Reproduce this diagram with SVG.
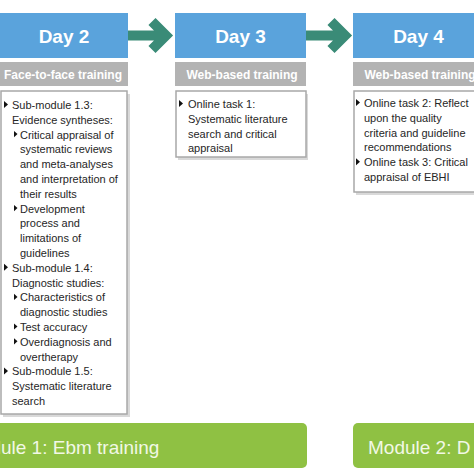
<svg xmlns="http://www.w3.org/2000/svg" width="474" height="474" viewBox="0 0 474 474">
<defs>
<style>
.day{fill:#5aa3dc}
.bar{fill:#b3b3b3}
.box{fill:#ffffff;stroke:#a8a8a8;stroke-width:1.5}
.shadow{fill:#d9d9d9}
.dt{font-family:"Liberation Sans",Arial,sans-serif;font-weight:bold;font-size:19px;fill:#ffffff;text-anchor:middle}
.bt{font-family:"Liberation Sans",Arial,sans-serif;font-weight:bold;font-size:12px;fill:#ffffff;text-anchor:middle}
.tx{font-family:"Liberation Sans",Arial,sans-serif;font-size:11px;fill:#262626}
.mod{fill:#8fc143}
.mt{font-family:"Liberation Sans",Arial,sans-serif;font-size:19px;fill:#f2f8e6}
.arr{fill:none;stroke:#3a8b77;stroke-width:10}
.bul{fill:#111111}
</style>
</defs>
<rect width="474" height="474" fill="#ffffff"/>
<g id="connectors">
<path class="arr" d="M128 35.5H164M152 21.5L166 35.5L152 49.5"/>
<path class="arr" d="M306 35.5H344M331 21.5L345 35.5L331 49.5"/>
</g>
<g id="day2">
<rect class="day" x="-3" y="13" width="131" height="45"/>
<text class="dt" x="64" y="43">Day 2</text>
<rect class="bar" x="-3" y="62" width="131" height="24"/>
<text class="bt" x="63" y="79">Face-to-face training</text>
<rect class="shadow" x="3" y="94" width="127" height="323"/>
<rect class="box" x="1" y="91" width="126" height="323"/>
<polygon class="bul" points="4,101 8,104.5 4,108"/>
<text class="tx" x="12" y="109">Sub-module 1.3:</text>
<text class="tx" x="12" y="123.8">Evidence syntheses:</text>
<polygon class="bul" points="14,131 17.5,134.1 14,137.2"/>
<text class="tx" x="20" y="138.6">Critical appraisal of</text>
<text class="tx" x="20" y="153.4">systematic reviews</text>
<text class="tx" x="20" y="168.2">and meta-analyses</text>
<text class="tx" x="20" y="183">and interpretation of</text>
<text class="tx" x="20" y="197.8">their results</text>
<polygon class="bul" points="14,205 17.5,208.1 14,211.2"/>
<text class="tx" x="20" y="212.6">Development</text>
<text class="tx" x="20" y="227.4">process and</text>
<text class="tx" x="20" y="242.2">limitations of</text>
<text class="tx" x="20" y="257">guidelines</text>
<polygon class="bul" points="4,263.8 8,267.3 4,270.8"/>
<text class="tx" x="12" y="271.8">Sub-module 1.4:</text>
<text class="tx" x="12" y="286.6">Diagnostic studies:</text>
<polygon class="bul" points="14,293.8 17.5,296.9 14,300"/>
<text class="tx" x="20" y="301.4">Characteristics of</text>
<text class="tx" x="20" y="316.2">diagnostic studies</text>
<polygon class="bul" points="14,323.4 17.5,326.5 14,329.6"/>
<text class="tx" x="20" y="331">Test accuracy</text>
<polygon class="bul" points="14,338.2 17.5,341.3 14,344.4"/>
<text class="tx" x="20" y="345.8">Overdiagnosis and</text>
<text class="tx" x="20" y="360.6">overtherapy</text>
<polygon class="bul" points="4,367.4 8,370.9 4,374.4"/>
<text class="tx" x="12" y="375.4">Sub-module 1.5:</text>
<text class="tx" x="12" y="390.2">Systematic literature</text>
<text class="tx" x="12" y="405">search</text>
</g>
<g id="day3">
<rect class="day" x="175" y="13" width="131" height="45"/>
<text class="dt" x="240.5" y="43">Day 3</text>
<rect class="bar" x="175" y="62" width="131" height="24"/>
<text class="bt" x="242" y="79">Web-based training</text>
<rect class="shadow" x="178" y="94" width="130" height="66"/>
<rect class="box" x="176" y="91" width="130" height="66"/>
<polygon class="bul" points="179,100 183,103.5 179,107"/>
<text class="tx" x="188" y="108">Online task 1:</text>
<text class="tx" x="188" y="122.8">Systematic literature</text>
<text class="tx" x="188" y="137.6">search and critical</text>
<text class="tx" x="188" y="152.4">appraisal</text>
</g>
<g id="day4">
<rect class="day" x="353" y="13" width="131" height="45"/>
<text class="dt" x="418.5" y="43">Day 4</text>
<rect class="bar" x="353" y="62" width="131" height="24"/>
<text class="bt" x="420" y="79">Web-based training</text>
<rect class="shadow" x="356" y="94" width="130" height="101"/>
<rect class="box" x="354" y="91" width="130" height="101"/>
<polygon class="bul" points="356,99 360,102.5 356,106"/>
<text class="tx" x="364" y="107">Online task 2: Reflect</text>
<text class="tx" x="364" y="121.8">upon the quality</text>
<text class="tx" x="364" y="136.6">criteria and guideline</text>
<text class="tx" x="364" y="151.4">recommendations</text>
<polygon class="bul" points="356,158.2 360,161.7 356,165.2"/>
<text class="tx" x="364" y="166.2">Online task 3: Critical</text>
<text class="tx" x="364" y="181">appraisal of EBHI</text>
</g>
<g id="module1">
<rect class="mod" x="-20" y="423" width="327" height="45" rx="5"/>
<text class="mt" x="-36" y="454">Module 1: Ebm training</text>
</g>
<g id="module2">
<rect class="mod" x="353" y="423" width="140" height="45" rx="5"/>
<text class="mt" x="368" y="454">Module 2: D</text>
</g>
</svg>
